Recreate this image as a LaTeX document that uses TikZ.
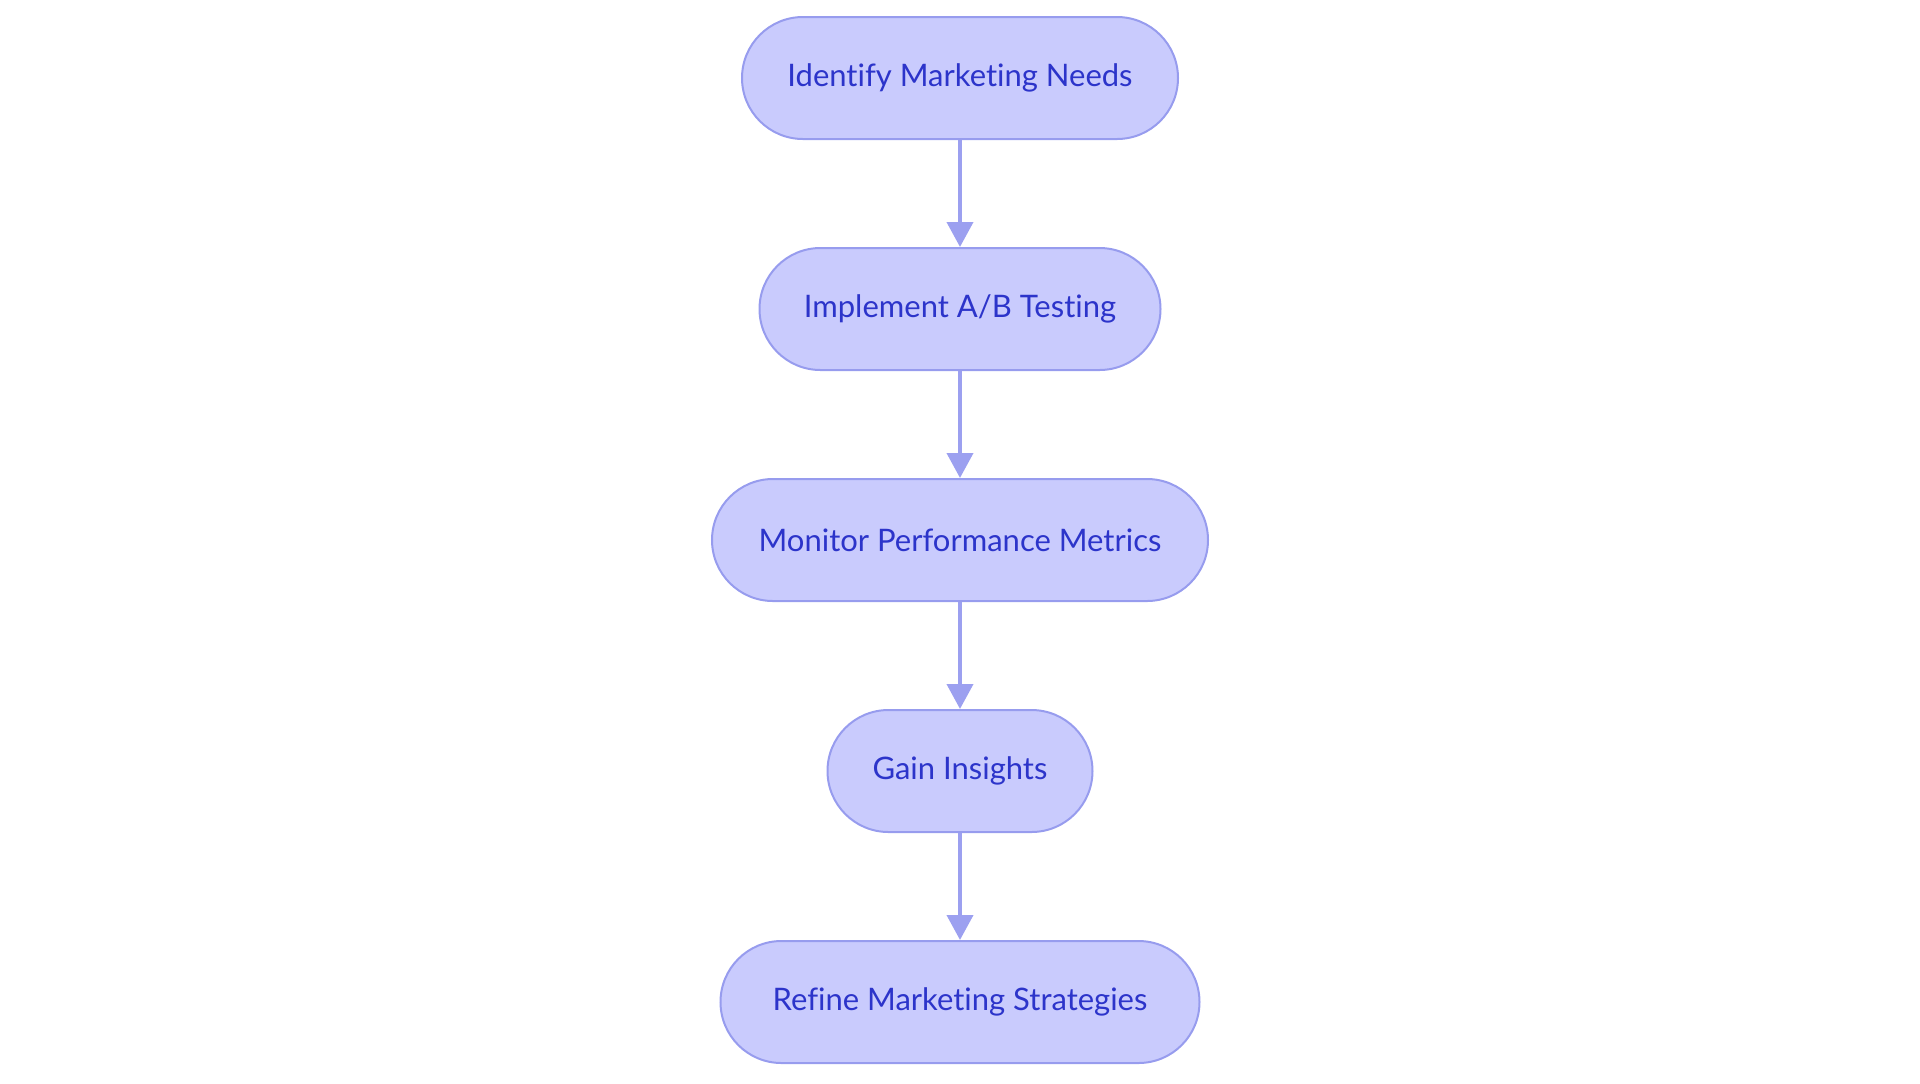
\documentclass[tikz,border=0pt]{standalone}
\usepackage{fontspec}
\setmainfont{Lato}[Ligatures={NoCommon}]
\usetikzlibrary{positioning, arrows.meta}
\definecolor{stagefill}{HTML}{C9CBFD}
\definecolor{stageline}{HTML}{979CEE}
\definecolor{stagetext}{HTML}{2C34CA}
\definecolor{flowline}{HTML}{9CA0F0}

\tikzset{
    stage/.style={draw=stageline, line width=1pt, fill=stagefill, text=stagetext,
        rounded corners=30.5pt, minimum height=61pt, inner sep=0pt,
        font=\fontsize{15.5pt}{18pt}\selectfont},
    flow/.style={draw=flowline, line width=2pt, -{Triangle[width=13pt, length=12.5pt]}}
}

\begin{document}
\begin{tikzpicture}
    \useasboundingbox (-480pt, 39pt) rectangle (480pt, -502.5pt);
    \node (Needs) [stage, minimum width=218pt] {Identify Marketing Needs};
    \node (Testing) [stage, minimum width=200.5pt, below=53.5pt of Needs] {Implement A/B Testing};
    \node (Metrics) [stage, minimum width=248pt, below=53.5pt of Testing] {Monitor Performance Metrics};
    \node (Insights) [stage, minimum width=132.5pt, below=53.5pt of Metrics] {Gain Insights};
    \node (Refine) [stage, minimum width=239.5pt, below=53.5pt of Insights] {Refine Marketing Strategies};
    \draw [flow] (Needs) -- (Testing);
    \draw [flow] (Testing) -- (Metrics);
    \draw [flow] (Metrics) -- (Insights);
    \draw [flow] (Insights) -- (Refine);
\end{tikzpicture}
\end{document}
